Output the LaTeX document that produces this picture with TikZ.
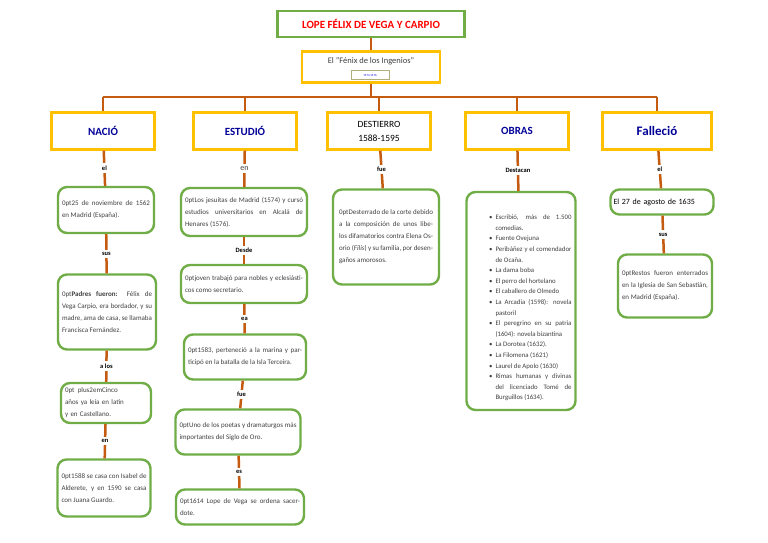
\documentclass[tikz,border=0pt]{standalone}
\usepackage{fontspec}
\setmainfont{Carlito}
\definecolor{gbox}{HTML}{70AD47}
\definecolor{ybox}{HTML}{FFC000}
\definecolor{ln}{HTML}{C55A11}
\definecolor{tx}{HTML}{404040}
\begin{document}
\hyphenpenalty=10000 \tolerance=9999 \emergencystretch=20pt
\begin{tikzpicture}[x=1pt,y=-1pt,
 g/.style={draw=gbox,line width=2.4pt,rounded corners=9pt,fill=white,text=tx,font=\fontsize{7}{12}\selectfont\hyphenpenalty=10000,align=justify,inner sep=4pt},
 yb/.style={draw=ybox,line width=2.4pt,fill=white,minimum height=37pt,minimum width=103pt,font=\fontsize{11}{13}\selectfont\bfseries,text=blue!60!black},
 lab/.style={fill=white,font=\fontsize{6.5}{7}\selectfont\bfseries,inner sep=2.5pt},
 c/.style={draw=ln,line width=2.5pt}]
\useasboundingbox (0,0) rectangle (768,543);
\node[draw=gbox,line width=2.4pt,minimum width=187pt,minimum height=26pt,text=red,font=\fontsize{11}{13}\selectfont\bfseries] (t) at (371,24) {LOPE FÉLIX DE VEGA Y CARPIO};
\node[draw=ybox,line width=2.4pt,minimum width=138pt,minimum height=31pt,fill=white] (s) at (371,67) {};
\node[font=\fontsize{8.5}{9}\selectfont,text=tx] at (371,61) {El "Fénix de los Ingenios"};
\node[draw=gray!70!yellow,line width=1pt,minimum width=38pt,minimum height=9pt,inner sep=0pt,font=\fontsize{3}{4}\selectfont,text=blue] (sy) at (370,75) {1573-1576};
\coordinate (h1) at (103,97); \coordinate (h5) at (657,97); \coordinate (hc) at (371,97);
\draw[c] (t) -- (s); \draw[c] (s.south) -- (hc);
\draw[c] (h1) -- (h5);
\node[yb] (a) at (103,131) {NACIÓ};
\node[yb] (b) at (245,131) {ESTUDIÓ};
\node[yb,font=\fontsize{9.5}{14}\selectfont,text=black,align=center] (d) at (379,131) {DESTIERRO\\1588-1595};
\node[yb] (o) at (517,131) {OBRAS};
\node[yb,minimum width=109pt,font=\fontsize{13}{15}\selectfont\bfseries] (f) at (657,131) {Falleció};
\foreach \n/\x in {a/103,b/245,d/379,o/517,f/657}{\draw[c] (\x,97) -- (\n.north);}
% column 1
\node[g,text width=88pt,minimum height=46pt] (a1) at (106,210) {25 de noviembre de 1562 en Madrid (España).};
\node[g,text width=90pt,minimum height=75pt] (a2) at (107,312) {\textbf{Padres fueron:} Félix de Vega Carpio, era bordador, y su madre, ama de casa, se llamaba Francisca Fernández.};
\node[g,text width=82pt,minimum height=40pt,align=center] (a3) at (106,403) {Cinco años ya leía en latín y en Castellano.};
\node[g,text width=85pt,minimum height=57pt] (a4) at (104,488) {1588 se casa con Isabel de Alderete, y en 1590 se casa con Juana Guardo.};
\draw[c] (a) -- (a1) node[lab,midway]{el};
\draw[c] (a1) -- (a2) node[lab,midway]{sus};
\draw[c] (a2) -- (a3) node[lab,midway]{a los};
\draw[c] (a3) -- (a4) node[lab,midway]{en};
% column 2
\node[g,text width=118pt,minimum height=48pt] (b1) at (244,212) {Los jesuitas de Madrid (1574) y cursó estudios universitarios en Alcalá de Henares (1576).};
\node[g,text width=118pt,minimum height=38pt] (b2) at (244,284) {joven trabajó para nobles y eclesiásticos como secretario.};
\node[g,text width=114pt,minimum height=45pt] (b3) at (245,357) {1583, perteneció a la marina y participó en la batalla de la Isla Terceira.};
\node[g,text width=117pt,minimum height=45pt] (b4) at (238,432) {Uno de los poetas y dramaturgos más importantes del Siglo de Oro.};
\node[g,text width=120pt,minimum height=35pt] (b5) at (240,507) {1614 Lope de Vega se ordena sacerdote.};
\draw[c] (b) -- (b1) node[lab,midway,font=\fontsize{8}{9}\selectfont,text=tx]{en};
\draw[c] (b1) -- (b2) node[lab,midway]{Desde};
\draw[c] (b2) -- (b3) node[lab,midway]{ea};
\draw[c] (b3) -- (b4) node[lab,midway]{fue};
\draw[c] (b4) -- (b5) node[lab,midway]{es};
% column 3
\node[g,text width=94pt,minimum height=95pt,inner sep=6pt] (d1) at (386,237) {Desterrado de la corte debido a la composición de unos libelos difamatorios contra Elena Osorio (\textit{Filis}) y su familia, por desengaños amorosos.};
\draw[c] (d) -- (d1) node[lab,midway]{fue};
% column 4
\node[g,text width=101pt,minimum height=218pt,inner sep=4pt,font=\fontsize{6.8}{10.6}\selectfont] (o1) at (521,301) {%
\begin{itemize}\setlength{\itemsep}{0pt}\setlength{\parskip}{0pt}\setlength{\leftmargin}{8pt}\setlength{\labelsep}{3pt}\setlength{\topsep}{0pt}\setlength{\partopsep}{0pt}\setlength{\labelwidth}{5pt}\setlength{\itemindent}{0pt}
\renewcommand{\labelitemi}{\textbullet}
\item Escribió, más de 1.500 comedias.
\item Fuente Ovejuna
\item Peribáñez y el comendador de Ocaña.
\item La dama boba
\item El perro del hortelano
\item El caballero de Olmedo
\item La Arcadia (1598): novela pastoril
\item El peregrino en su patria (1604): novela bizantina
\item La Dorotea (1632).
\item La Filomena (1621)
\item Laurel de Apolo (1630)
\item Rimas humanas y divinas del licenciado Tomé de Burguillos (1634).
\end{itemize}};
\draw[c] (o) -- (o1) node[lab,midway]{Destacan};
% column 5
\node[g,text width=97pt,minimum height=25pt,font=\fontsize{8}{9}\selectfont,text=black,inner sep=3pt,align=left] (f1) at (662,202) {El 27 de agosto de 1635};
\node[g,text width=86pt,minimum height=63pt] (f2) at (665,286) {Restos fueron enterrados en la Iglesia de San Sebastián, en Madrid (España).};
\draw[c] (f) -- (f1) node[lab,midway]{el};
\draw[c] (f1) -- (f2) node[lab,midway]{sus};
\end{tikzpicture}
\end{document}
